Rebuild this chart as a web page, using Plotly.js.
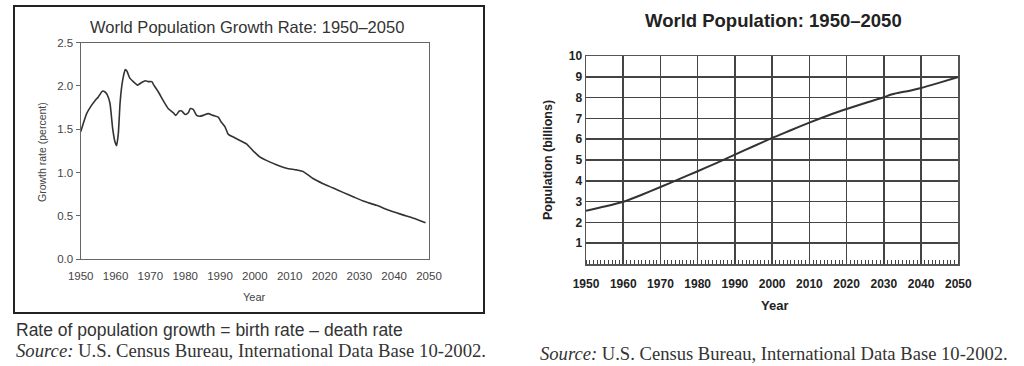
<!DOCTYPE html>
<html>
<head>
<meta charset="utf-8">
<script src="https://cdn.plot.ly/plotly-3.0.1.min.js"></script>
<style>html,body{margin:0;padding:0;background:#fff;}#chart{width:1024px;height:366px;}</style>
</head>
<body>
<div id="chart"></div>
<script>
// Left chart: world population growth rate (percent)
var rateYears = [1950, 1951.7, 1953, 1954.1, 1955, 1956.2, 1957, 1957.6, 1958.4, 1959.2, 1959.8, 1960.3, 1960.8, 1961.3, 1961.8, 1962.3, 1962.8, 1963.3, 1964.1, 1965.1, 1966.3, 1967.5, 1968.5, 1969.4, 1970.4, 1971, 1972.3, 1973.7, 1975.1, 1976.6, 1977.3, 1978.3, 1979, 1980, 1980.9, 1981.5, 1982.3, 1983.3, 1984.2, 1985.2, 1986.6, 1988, 1989.5, 1990.4, 1991.4, 1992.4, 1993.8, 1995.7, 1997.6, 1999.5, 2001.4, 2003.3, 2006.2, 2009.1, 2011.9, 2013.9, 2016.7, 2019.6, 2022.5, 2025.3, 2028.2, 2031.1, 2034.9, 2038.7, 2042.5, 2046.4, 2049];
var rateValues = [1.47, 1.68, 1.77, 1.83, 1.87, 1.94, 1.93, 1.90, 1.80, 1.50, 1.36, 1.31, 1.45, 1.80, 2.00, 2.12, 2.19, 2.17, 2.09, 2.05, 2.01, 2.04, 2.06, 2.05, 2.05, 2.01, 1.93, 1.83, 1.74, 1.69, 1.66, 1.71, 1.71, 1.67, 1.69, 1.74, 1.73, 1.66, 1.65, 1.66, 1.68, 1.66, 1.64, 1.58, 1.53, 1.44, 1.41, 1.37, 1.33, 1.25, 1.18, 1.14, 1.09, 1.05, 1.03, 1.01, 0.93, 0.87, 0.82, 0.77, 0.72, 0.67, 0.62, 0.56, 0.51, 0.46, 0.42];

// Right chart: world population (billions)
var popYears = [1950, 1955, 1960, 1965, 1970, 1975, 1980, 1985, 1990, 1995, 2000, 2005, 2010, 2015, 2020, 2025, 2030, 2032, 2035, 2037, 2040, 2045, 2050];
var popValues = [2.56, 2.76, 2.99, 3.33, 3.70, 4.08, 4.46, 4.85, 5.26, 5.66, 6.06, 6.43, 6.80, 7.14, 7.45, 7.74, 8.02, 8.15, 8.27, 8.33, 8.46, 8.72, 8.99];

var decadeTicks = [1950, 1960, 1970, 1980, 1990, 2000, 2010, 2020, 2030, 2040, 2050];
var rateTicks = [0, 0.5, 1.0, 1.5, 2.0, 2.5];
var popTicks = [1, 2, 3, 4, 5, 6, 7, 8, 9, 10];

var leftTitle = "World Population Growth Rate: 1950–2050";
var rightTitle = "World Population: 1950–2050";
var leftYTitle = "Growth rate (percent)";
var rightYTitle = "Population (billions)";
var xTitle = "Year";
var noteText = "Rate of population growth = birth rate – death rate";
var sourceText = "<i>Source:</i> U.S. Census Bureau, International Data Base 10-2002.";

var W = 1024, H = 366;
function px(x){ return x / W; }
function py(y){ return 1 - y / H; }

var sans = "Liberation Sans, Arial, Helvetica, sans-serif";
var serif = "Liberation Serif, Times New Roman, serif";

var traces = [
  {x: rateYears, y: rateValues, type: 'scatter', mode: 'lines', xaxis: 'x', yaxis: 'y',
   line: {color: '#333', width: 1.6, shape: 'spline', smoothing: 0.5}, hoverinfo: 'skip'},
  {x: popYears, y: popValues, type: 'scatter', mode: 'lines', xaxis: 'x2', yaxis: 'y2',
   line: {color: '#333', width: 2, shape: 'spline', smoothing: 0.6}, hoverinfo: 'skip'}
];

var layout = {
  width: W, height: H,
  margin: {l: 0, r: 0, t: 0, b: 0},
  paper_bgcolor: '#fff', plot_bgcolor: '#fff',
  showlegend: false,
  xaxis: {
    domain: [px(80.7), px(429)], range: [1950, 2050], tickvals: decadeTicks,
    showline: true, mirror: true, linecolor: '#666', linewidth: 1.2,
    showgrid: false, zeroline: false, ticks: 'outside', ticklen: 6, tickcolor: 'rgba(0,0,0,0)',
    tickfont: {family: sans, size: 11.5, color: '#444'}, anchor: 'y', fixedrange: true
  },
  yaxis: {
    domain: [py(259), py(42.7)], range: [0, 2.5], tickvals: rateTicks, tickformat: '.1f',
    showline: true, mirror: true, linecolor: '#666', linewidth: 1.2,
    showgrid: false, zeroline: false, ticks: 'outside', ticklen: 4, tickcolor: '#666',
    tickfont: {family: sans, size: 11.5, color: '#444'}, anchor: 'x', fixedrange: true
  },
  xaxis2: {
    domain: [px(586), px(958.3)], range: [1950, 2050], tickvals: decadeTicks,
    showline: true, mirror: true, linecolor: '#555', linewidth: 1.5,
    showgrid: true, gridcolor: '#444', gridwidth: 1.5, zeroline: false,
    ticks: 'outside', ticklen: 8, tickcolor: 'rgba(0,0,0,0)',
    minor: {ticks: 'inside', dtick: 1, ticklen: 4, tickcolor: '#444', tickwidth: 1, showgrid: false},
    tickfont: {family: sans, size: 12, color: '#222', weight: 'bold'}, anchor: 'y2', fixedrange: true
  },
  yaxis2: {
    domain: [py(264), py(56)], range: [0, 10], tickvals: popTicks,
    showline: true, mirror: true, linecolor: '#555', linewidth: 1.5,
    showgrid: true, gridcolor: '#444', gridwidth: 1.5, zeroline: false, ticks: '',
    tickfont: {family: sans, size: 12, color: '#222', weight: 'bold'}, anchor: 'x2', fixedrange: true
  },
  shapes: [
    {type: 'rect', xref: 'paper', yref: 'paper', x0: px(14), x1: px(484), y0: py(313), y1: py(6),
     line: {color: '#222', width: 2}}
  ],
  annotations: [
    {text: leftTitle, x: px(247), y: py(27), xref: 'paper', yref: 'paper', xanchor: 'center', yanchor: 'middle',
     showarrow: false, font: {family: sans, size: 16.5, color: '#333'}},
    {text: leftYTitle, x: px(42), y: py(152), xref: 'paper', yref: 'paper', xanchor: 'center', yanchor: 'middle',
     textangle: -90, showarrow: false, font: {family: sans, size: 10.5, color: '#444'}},
    {text: xTitle, x: px(254), y: py(297), xref: 'paper', yref: 'paper', xanchor: 'center', yanchor: 'middle',
     showarrow: false, font: {family: sans, size: 11, color: '#444'}},
    {text: '<b>' + rightTitle + '</b>', x: px(773), y: py(21), xref: 'paper', yref: 'paper', xanchor: 'center', yanchor: 'middle',
     showarrow: false, font: {family: sans, size: 18.5, color: '#222'}},
    {text: '<b>' + rightYTitle + '</b>', x: px(548), y: py(160), xref: 'paper', yref: 'paper', xanchor: 'center', yanchor: 'middle',
     textangle: -90, showarrow: false, font: {family: sans, size: 12.5, color: '#222'}},
    {text: '<b>' + xTitle + '</b>', x: px(774), y: py(305), xref: 'paper', yref: 'paper', xanchor: 'center', yanchor: 'middle',
     showarrow: false, font: {family: sans, size: 13, color: '#222'}},
    {text: noteText, x: px(14), y: py(330), xref: 'paper', yref: 'paper', xanchor: 'left', yanchor: 'middle',
     showarrow: false, font: {family: sans, size: 17.5, color: '#333'}},
    {text: sourceText, x: px(14), y: py(350), xref: 'paper', yref: 'paper', xanchor: 'left', yanchor: 'middle',
     showarrow: false, font: {family: serif, size: 18.7, color: '#333'}},
    {text: sourceText, x: px(538), y: py(353), xref: 'paper', yref: 'paper', xanchor: 'left', yanchor: 'middle',
     showarrow: false, font: {family: serif, size: 18.6, color: '#333'}}
  ]
};

Plotly.newPlot('chart', traces, layout, {staticPlot: true, displayModeBar: false});
</script>
</body>
</html>
